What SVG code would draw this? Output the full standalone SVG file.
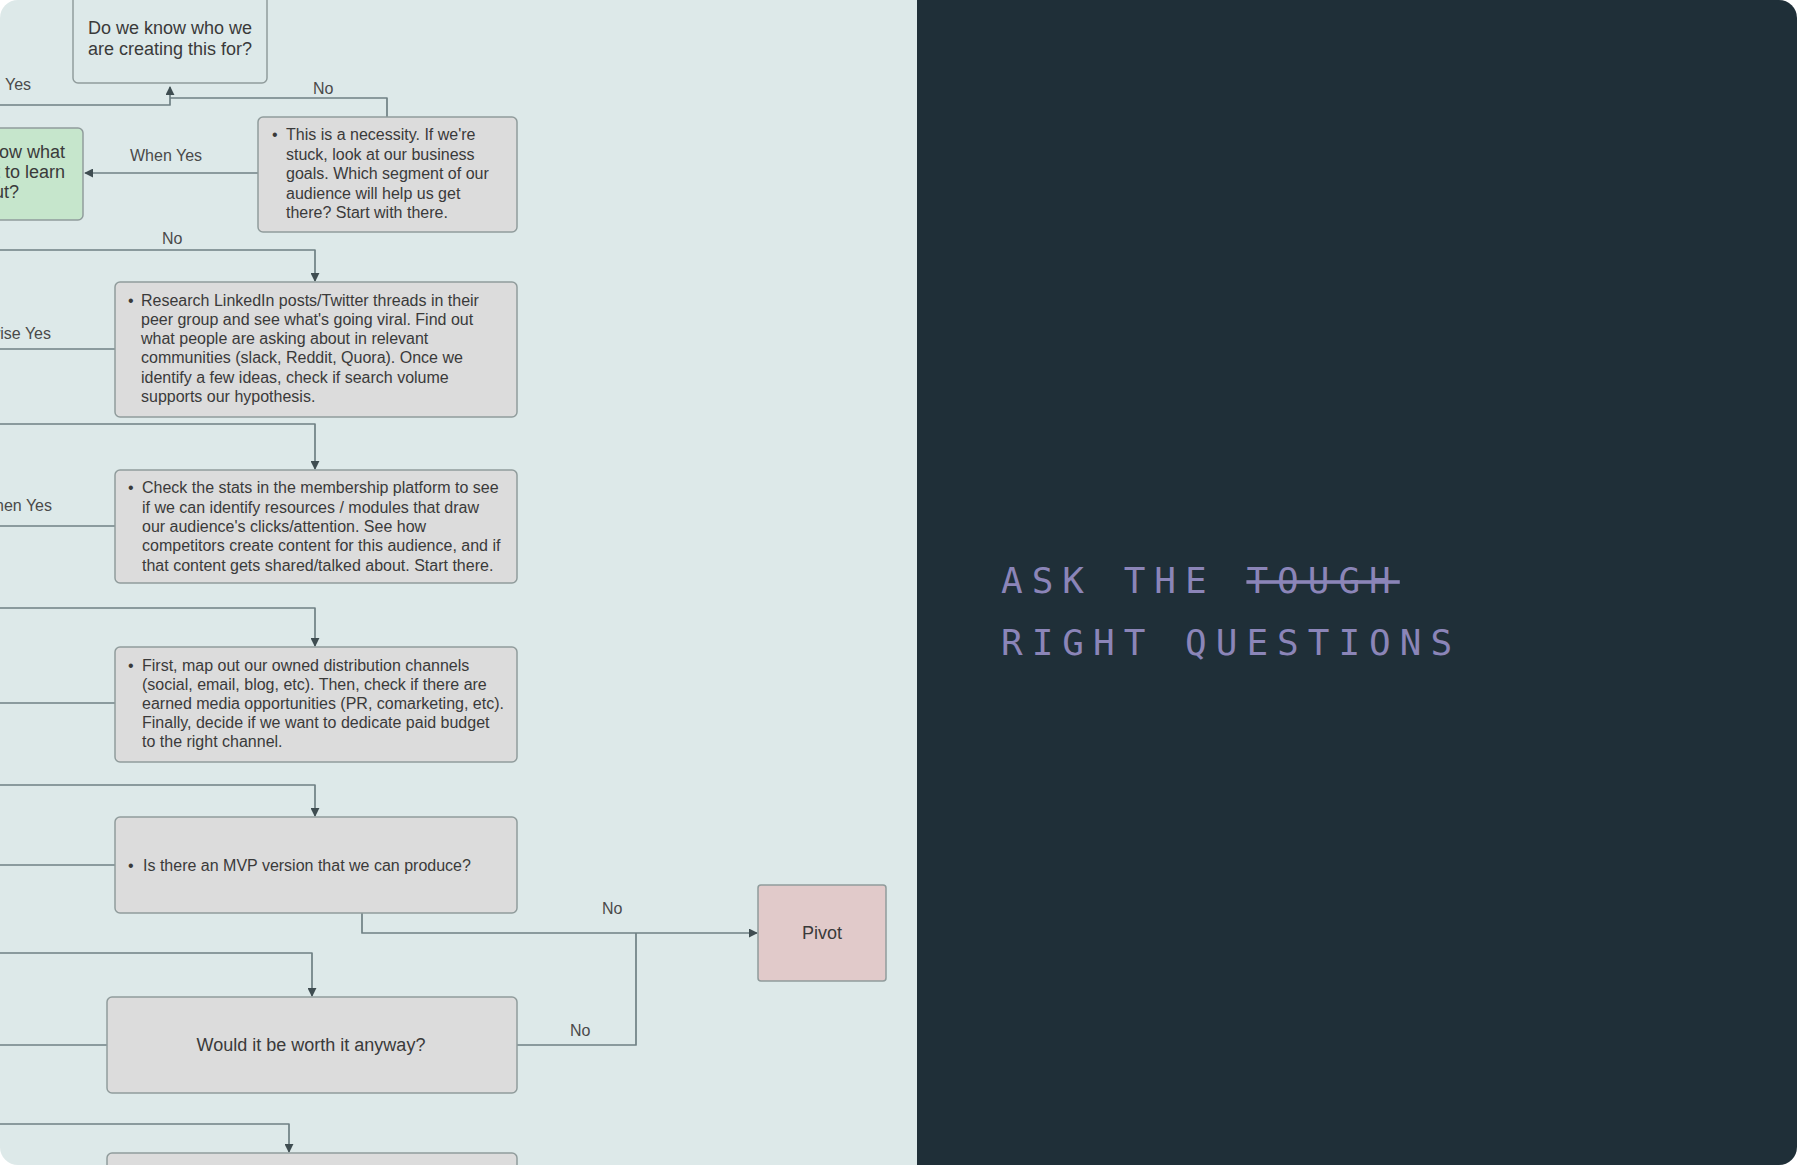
<svg xmlns="http://www.w3.org/2000/svg" width="1800" height="1169" viewBox="0 0 1800 1169">
<defs>
<clipPath id="card"><rect x="0" y="0" width="1797" height="1165" rx="18" ry="18"/></clipPath>
<clipPath id="leftp"><rect x="0" y="0" width="917" height="1165"/></clipPath>
<marker id="arr" viewBox="0 0 10 10" refX="9" refY="5" markerWidth="9" markerHeight="9" markerUnits="userSpaceOnUse" orient="auto">
<path d="M0,0 L10,5 L0,10 z" fill="#3f4d51"/>
</marker>
<style>
.box{fill:#dcdcdc;stroke:#909c9c;stroke-width:1.5}
.green{fill:#c6e6cc;stroke:#909c9c;stroke-width:1.5}
.pink{fill:#e1caca;stroke:#909c9c;stroke-width:1.5}
.q{fill:#dde9e9;stroke:#909c9c;stroke-width:1.5}
.t{font-family:"Liberation Sans",Arial,sans-serif;font-size:16px;fill:#3a3a3a}
.tb{font-family:"Liberation Sans",Arial,sans-serif;font-size:18px;fill:#3a3a3a}
.lbl{font-family:"Liberation Sans",Arial,sans-serif;font-size:16px;fill:#4a4a4a}
.c{fill:none;stroke:#6f8084;stroke-width:1.7;stroke-linejoin:round}
.title{font-family:"DejaVu Sans Mono","Liberation Mono",monospace;font-size:36px;letter-spacing:9px;fill:#8b85b8}
</style>
</defs>
<rect x="0" y="0" width="1800" height="1169" fill="#ffffff"/>
<g clip-path="url(#card)">
<rect x="0" y="0" width="917" height="1165" fill="#dde9e9"/>
<rect x="917" y="0" width="883" height="1165" fill="#1f2f38"/>
<g clip-path="url(#leftp)">
<g id="connectors">
<path class="c" d="M0,105 H170 V87" marker-end="url(#arr)"/>
<path class="c" d="M387,117 V98 H170"/>
<path class="c" d="M258,173 H85" marker-end="url(#arr)"/>
<path class="c" d="M0,250 H315 V281" marker-end="url(#arr)"/>
<path class="c" d="M0,349 H115"/>
<path class="c" d="M0,424 H315 V469" marker-end="url(#arr)"/>
<path class="c" d="M0,526 H115"/>
<path class="c" d="M0,608 H315 V646" marker-end="url(#arr)"/>
<path class="c" d="M0,703 H115"/>
<path class="c" d="M0,785 H315 V816" marker-end="url(#arr)"/>
<path class="c" d="M0,865 H115"/>
<path class="c" d="M362,913 V933 H757" marker-end="url(#arr)"/>
<path class="c" d="M0,953 H312 V996" marker-end="url(#arr)"/>
<path class="c" d="M0,1045 H107"/>
<path class="c" d="M517,1045 H636 V933"/>
<path class="c" d="M0,1124 H289 V1152" marker-end="url(#arr)"/>
<text class="lbl" x="5" y="90">Yes</text>
<text class="lbl" x="313" y="94">No</text>
<text class="lbl" x="130" y="161">When Yes</text>
<text class="lbl" x="162" y="244">No</text>
<text class="lbl" x="51" y="339" text-anchor="end">Otherwise Yes</text>
<text class="lbl" x="52" y="511" text-anchor="end">When Yes</text>
<text class="lbl" x="602" y="914">No</text>
<text class="lbl" x="570" y="1036">No</text>
</g>
<g id="n-know-who">
<rect class="q" x="73" y="-10" width="194" height="93" rx="5"/>
<text class="tb" x="170" y="34" text-anchor="middle">Do we know who we</text>
<text class="tb" x="170" y="55" text-anchor="middle">are creating this for?</text>
</g>
<g id="n-know-what">
<rect class="green" x="-120" y="128" width="203" height="92" rx="5"/>
<text class="tb" x="65" y="158" text-anchor="end">Do we know what</text>
<text class="tb" x="65" y="178" text-anchor="end">we want to learn</text>
<text class="tb" x="19" y="198" text-anchor="end">about?</text>
</g>
<g id="n-necessity">
<rect class="box" x="258" y="117" width="259" height="115" rx="5"/>
<text class="t" x="272" y="140">•</text>
<text class="t" x="286" y="140">This is a necessity. If we're</text>
<text class="t" x="286" y="160">stuck, look at our business</text>
<text class="t" x="286" y="179">goals. Which segment of our</text>
<text class="t" x="286" y="199">audience will help us get</text>
<text class="t" x="286" y="218">there? Start with there.</text>
</g>
<g id="n-research">
<rect class="box" x="115" y="282" width="402" height="135" rx="5"/>
<text class="t" x="128" y="306">•</text>
<text class="t" x="141" y="306">Research LinkedIn posts/Twitter threads in their</text>
<text class="t" x="141" y="325">peer group and see what's going viral. Find out</text>
<text class="t" x="141" y="344">what people are asking about in relevant</text>
<text class="t" x="141" y="363">communities (slack, Reddit, Quora). Once we</text>
<text class="t" x="141" y="383">identify a few ideas, check if search volume</text>
<text class="t" x="141" y="402">supports our hypothesis.</text>
</g>
<g id="n-stats">
<rect class="box" x="115" y="470" width="402" height="113" rx="5"/>
<text class="t" x="128" y="493">•</text>
<text class="t" x="142" y="493">Check the stats in the membership platform to see</text>
<text class="t" x="142" y="513">if we can identify resources / modules that draw</text>
<text class="t" x="142" y="532">our audience's clicks/attention. See how</text>
<text class="t" x="142" y="551">competitors create content for this audience, and if</text>
<text class="t" x="142" y="571">that content gets shared/talked about. Start there.</text>
</g>
<g id="n-channels">
<rect class="box" x="115" y="647" width="402" height="115" rx="5"/>
<text class="t" x="128" y="671">•</text>
<text class="t" x="142" y="671">First, map out our owned distribution channels</text>
<text class="t" x="142" y="690">(social, email, blog, etc). Then, check if there are</text>
<text class="t" x="142" y="709">earned media opportunities (PR, comarketing, etc).</text>
<text class="t" x="142" y="728">Finally, decide if we want to dedicate paid budget</text>
<text class="t" x="142" y="747">to the right channel.</text>
</g>
<g id="n-mvp">
<rect class="box" x="115" y="817" width="402" height="96" rx="5"/>
<text class="t" x="128" y="871">•</text>
<text class="t" x="143" y="871">Is there an MVP version that we can produce?</text>
</g>
<g id="n-worth">
<rect class="box" x="107" y="997" width="410" height="96" rx="5"/>
<text class="tb" x="311" y="1051" text-anchor="middle">Would it be worth it anyway?</text>
</g>
<g id="n-next">
<rect class="box" x="107" y="1153" width="410" height="60" rx="5"/>
</g>
<g id="n-pivot">
<rect class="pink" x="758" y="885" width="128" height="96" rx="3"/>
<text class="tb" x="822" y="939" text-anchor="middle">Pivot</text>
</g>
</g>
<g id="title">
<text class="title" x="1001" y="593">ASK THE <tspan text-decoration="line-through">TOUGH</tspan></text>
<text class="title" x="1001" y="655">RIGHT QUESTIONS</text>
</g>
</g>
</svg>
